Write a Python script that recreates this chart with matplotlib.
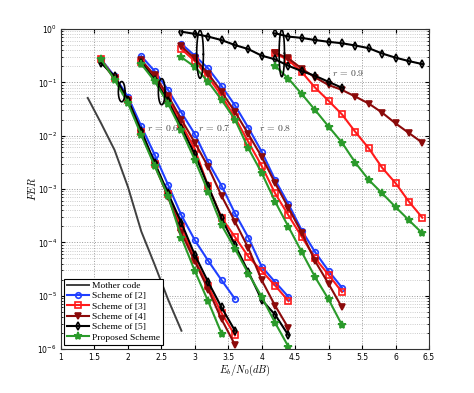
import numpy as np
import matplotlib
matplotlib.use('Agg')
import matplotlib.pyplot as plt
from matplotlib.ticker import FixedLocator, LogLocator, NullFormatter

plt.rcParams['mathtext.fontset'] = 'cm'
plt.rcParams['font.family'] = 'DejaVu Sans'

# Eb/N0 grids (dB) for each code rate
snr_mother = [1.4, 1.6, 1.8, 2.0, 2.2, 2.4, 2.6, 2.8]
snr_06 = [1.6, 1.8, 2.0, 2.2, 2.4, 2.6, 2.8, 3.0, 3.2, 3.4, 3.6]
snr_07 = [2.2, 2.4, 2.6, 2.8, 3.0, 3.2, 3.4, 3.6, 3.8, 4.0, 4.2, 4.4]
snr_08 = [2.8, 3.0, 3.2, 3.4, 3.6, 3.8, 4.0, 4.2, 4.4, 4.6, 4.8, 5.0, 5.2]
snr_09 = [4.2, 4.4, 4.6, 4.8, 5.0, 5.2, 5.4, 5.6, 5.8, 6.0, 6.2, 6.4]

fer_mother = [5.1e-2, 1.7e-2, 5.4e-3, 1.1e-3, 1.6e-4, 3.8e-5, 8.5e-6, 2.2e-6]

# r = 0.6
fer_s2_06 = [0.27, 0.13, 0.054, 0.015, 4.4e-3, 1.2e-3, 3.2e-4, 1.1e-4, 4.5e-5, 1.95e-5, 8.7e-6]
fer_s3_06 = [0.27, 0.12, 0.047, 0.0117, 3.0e-3, 7.9e-4, 1.9e-4, 4.7e-5, 1.5e-5, 4.7e-6, 1.8e-6]
fer_s4_06 = [0.25, 0.117, 0.045, 0.0112, 2.8e-3, 7.1e-4, 1.5e-4, 4.4e-5, 1.3e-5, 3.6e-6, 1.2e-6]
fer_s5_06 = [0.23, 0.13, 0.047, 0.0123, 3.1e-3, 8.3e-4, 2.3e-4, 5.8e-5, 1.8e-5, 6.0e-6, 2.2e-6]
fer_pr_06 = [0.27, 0.112, 0.041, 0.0102, 2.7e-3, 7.4e-4, 1.23e-4, 2.9e-5, 7.8e-6, 1.95e-6]

# r = 0.7
fer_s2_07 = [0.31, 0.162, 0.072, 0.027, 0.0107, 3.2e-3, 1.15e-3, 3.5e-4, 1.23e-4, 3.5e-5, 1.8e-5, 9.5e-6]
fer_s3_07 = [0.245, 0.126, 0.05, 0.0166, 5.6e-3, 1.12e-3, 2.9e-4, 1.26e-4, 5.4e-5, 2.9e-5, 1.55e-5, 7.9e-6]
fer_s4_07 = [0.26, 0.135, 0.056, 0.02, 7.4e-3, 2.6e-3, 7.4e-4, 2.45e-4, 7.8e-5, 1.95e-5, 6.5e-6, 2.45e-6]
fer_s5_07 = [0.234, 0.112, 0.044, 0.0141, 4.5e-3, 1.12e-3, 2.8e-4, 8.9e-5, 2.8e-5, 8.3e-6, 4.4e-6, 1.8e-6]
fer_pr_07 = [0.22, 0.105, 0.04, 0.0126, 3.5e-3, 8.9e-4, 2.1e-4, 7.6e-5, 2.6e-5, 9.5e-6, 3.1e-6, 1.1e-6]

# r = 0.8
fer_s2_08 = [0.525, 0.316, 0.182, 0.085, 0.037, 0.0141, 5.0e-3, 1.48e-3, 5.2e-4, 1.66e-4, 6.5e-5, 2.9e-5, 1.41e-5]
fer_s3_08 = [0.42, 0.25, 0.126, 0.056, 0.022, 7.6e-3, 2.7e-3, 8.3e-4, 3.2e-4, 1.26e-4, 5.0e-5, 2.45e-5, 1.17e-5]
fer_s4_08 = [0.47, 0.28, 0.145, 0.066, 0.028, 0.0107, 4.0e-3, 1.29e-3, 4.4e-4, 1.5e-4, 4.4e-5, 1.66e-5, 6.0e-6]
fer_s5_08 = [0.89, 0.81, 0.72, 0.62, 0.5, 0.42, 0.316, 0.27, 0.204, 0.162, 0.132, 0.102, 0.079]
fer_pr_08 = [0.295, 0.195, 0.102, 0.047, 0.02, 5.8e-3, 2.0e-3, 5.8e-4, 1.95e-4, 6.5e-5, 2.2e-5, 8.5e-6, 2.8e-6]

# r = 0.9
fer_s3_09 = [0.35, 0.26, 0.155, 0.079, 0.045, 0.025, 0.0117, 5.8e-3, 2.5e-3, 1.29e-3, 5.8e-4, 2.9e-4]
fer_s4_09 = [0.36, 0.28, 0.18, 0.123, 0.089, 0.072, 0.054, 0.04, 0.027, 0.017, 0.0112, 7.4e-3]
fer_s5_09 = [0.83, 0.72, 0.68, 0.62, 0.575, 0.54, 0.49, 0.437, 0.347, 0.29, 0.25, 0.22]
fer_pr_09 = [0.204, 0.117, 0.06, 0.03, 0.0148, 7.4e-3, 3.1e-3, 1.48e-3, 8.3e-4, 4.6e-4, 2.6e-4, 1.48e-4]

# ellipses: (center snr, center log10 fer, half width dB, half height decades)
ellipses = [(1.907, -1.175, 0.05, 0.19),
            (2.505, -1.175, 0.05, 0.245),
            (3.078, -0.475, 0.05, 0.45),
            (4.30, -0.455, 0.04, 0.44)]

rate_labels = [(2.28, 0.0139, '$r\\,=\\,0.6$'),
               (3.05, 0.0139, '$r\\,=\\,0.7$'),
               (3.96, 0.0139, '$r\\,=\\,0.8$'),
               (5.05, 0.15, '$r\\,=\\,0.9$')]

x_ticks = [1, 1.5, 2, 2.5, 3, 3.5, 4, 4.5, 5, 5.5, 6, 6.5]
x_ticklabels = ['1', '1.5', '2', '2.5', '3', '3.5', '4', '4.5', '5', '5.5', '6', '6.5']
y_ticks = [1e-6, 1e-5, 1e-4, 1e-3, 1e-2, 1e-1, 1e0]

blue = '#1f3fff'
red = '#ff1a1a'
dred = '#8b0a0a'
green = '#2a9a2a'

styles = {
    's2': dict(color=blue, marker='o', mfc='none', label='Scheme of [2]'),
    's3': dict(color=red, marker='s', mfc='none', label='Scheme of [3]'),
    's4': dict(color=dred, marker='v', label='Scheme of [4]'),
    's5': dict(color='black', marker='d', mfc='none', label='Scheme of [5]'),
    'pr': dict(color=green, marker='*', label='Proposed Scheme'),
}

fig = plt.figure(figsize=(4.74, 3.93), dpi=100)
ax = fig.add_axes([61 / 474, 44 / 393, 368 / 474, 320 / 393])

ax.plot(snr_mother, fer_mother, color='#404040', lw=1.4, label='Mother code')

curves = [
    ('s2', snr_06, fer_s2_06), ('s2', snr_07, fer_s2_07), ('s2', snr_08, fer_s2_08),
    ('s3', snr_06, fer_s3_06), ('s3', snr_07, fer_s3_07), ('s3', snr_08, fer_s3_08), ('s3', snr_09, fer_s3_09),
    ('s4', snr_06, fer_s4_06), ('s4', snr_07, fer_s4_07), ('s4', snr_08, fer_s4_08), ('s4', snr_09, fer_s4_09),
    ('s5', snr_06, fer_s5_06), ('s5', snr_07, fer_s5_07), ('s5', snr_08, fer_s5_08), ('s5', snr_09, fer_s5_09),
    ('pr', snr_06[:len(fer_pr_06)], fer_pr_06), ('pr', snr_07, fer_pr_07), ('pr', snr_08, fer_pr_08), ('pr', snr_09, fer_pr_09),
]
used = set()
for key, x, y in curves:
    st = dict(styles[key])
    if key in used:
        st.pop('label')
    used.add(key)
    ms = 6 if st['marker'] == '*' else 4
    ax.plot(x, y, lw=1.5, ms=ms, mew=1.2, **st)

t = np.linspace(0, 2 * np.pi, 100)
for cx, cy, a, b in ellipses:
    ax.plot(cx + a * np.cos(t), 10 ** (cy + b * np.sin(t)), color='black', lw=1.2)

for x, y, s in rate_labels:
    ax.text(x, y, s, fontsize=7, va='center', ha='left', color='#444444')

ax.set_yscale('log')
ax.set_xlim(1, 6.5)
ax.set_ylim(1e-6, 1)
ax.set_xticks(x_ticks)
ax.set_xticklabels(x_ticklabels)
ax.yaxis.set_major_locator(FixedLocator(y_ticks))
ax.yaxis.set_minor_locator(LogLocator(base=10, subs=np.arange(2, 10), numticks=20))
ax.yaxis.set_minor_formatter(NullFormatter())
ax.tick_params(which='both', direction='in', top=True, right=True, labelsize=5.5)
ax.tick_params(which='major', length=3, pad=3)
ax.tick_params(which='minor', length=1.5)
ax.grid(True, which='major', ls=':', color='#999999', lw=0.7)
ax.grid(True, which='minor', axis='y', ls=':', color='#bbbbbb', lw=0.6)
for sp in ax.spines.values():
    sp.set_linewidth(0.8)
    sp.set_color('#333333')

ax.set_xlabel('$E_b/N_0(dB)$', fontsize=7.5)
ax.xaxis.set_label_coords(0.5, -0.042)
ax.set_ylabel('$FER$', fontsize=7.5)
ax.yaxis.set_label_coords(-0.062, 0.5)

leg = ax.legend(loc='lower left', bbox_to_anchor=(0.004, 0.008),
                prop={'family': 'Liberation Serif', 'size': 6.8},
                labelspacing=0.18, handlelength=2.3, handletextpad=0.3,
                borderpad=0.3, borderaxespad=0.2, fancybox=False, framealpha=1,
                edgecolor='black')
leg.get_frame().set_linewidth(0.8)

fig.savefig('out.png', dpi=100)
